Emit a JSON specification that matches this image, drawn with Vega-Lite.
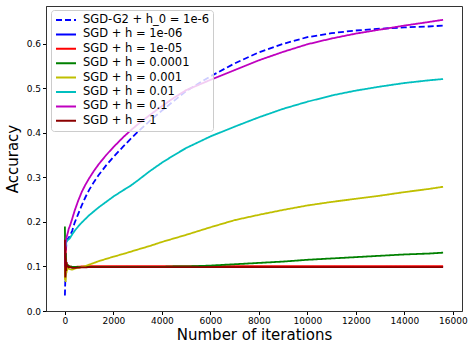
{
  "$schema": "https://vega.github.io/schema/vega-lite/v6.json",
  "autosize": {"type": "none"},
  "padding": {"left": 46, "top": 6, "right": 12, "bottom": 40},
  "width": 416,
  "height": 305,
  "background": "white",
  "config": {
    "view": {"stroke": "#333333", "strokeWidth": 1},
    "font": "DejaVu Sans",
    "axis": {
      "grid": false,
      "labelFont": "DejaVu Sans",
      "labelFontSize": 9,
      "labelColor": "#000000",
      "tickColor": "#000000",
      "tickSize": 3.5,
      "domainColor": "#333333",
      "titleFont": "DejaVu Sans",
      "titleFontSize": 15,
      "titleFontWeight": "normal",
      "titleColor": "#000000"
    }
  },
  "data": {
    "values": [
      {"x": 0, "g2": 0.035, "h6": 0.10, "h5": 0.12, "h4": 0.19, "h3": 0.07, "h2": 0.13, "h1": 0.10, "h0": 0.16},
      {"x": 16, "g2": 0.07, "h6": 0.14, "h5": 0.07, "h4": 0.09, "h3": 0.12, "h2": 0.15, "h1": 0.14, "h0": 0.075},
      {"x": 32, "g2": 0.11, "h6": 0.08, "h5": 0.15, "h4": 0.13, "h3": 0.065, "h2": 0.145, "h1": 0.155, "h0": 0.12},
      {"x": 48, "g2": 0.14, "h6": 0.12, "h5": 0.085, "h4": 0.095, "h3": 0.11, "h2": 0.15, "h1": 0.16, "h0": 0.09},
      {"x": 64, "g2": 0.155, "h6": 0.095, "h5": 0.11, "h4": 0.105, "h3": 0.085, "h2": 0.155, "h1": 0.165, "h0": 0.11},
      {"x": 80, "g2": 0.158, "h6": 0.105, "h5": 0.095, "h4": 0.10, "h3": 0.10, "h2": 0.157, "h1": 0.168, "h0": 0.098},
      {"x": 100, "g2": 0.16, "h6": 0.1, "h5": 0.103, "h4": 0.104, "h3": 0.093, "h2": 0.158, "h1": 0.172, "h0": 0.102},
      {"x": 130, "g2": 0.163, "h6": 0.099, "h5": 0.1, "h4": 0.103, "h3": 0.097, "h2": 0.16, "h1": 0.178, "h0": 0.1},
      {"x": 160, "g2": 0.165, "h6": 0.1, "h5": 0.1, "h4": 0.101, "h3": 0.095, "h2": 0.161, "h1": 0.185, "h0": 0.098},
      {"x": 200, "g2": 0.168, "h6": 0.099, "h5": 0.1, "h4": 0.1, "h3": 0.094, "h2": 0.163, "h1": 0.19, "h0": 0.099},
      {"x": 300, "g2": 0.18, "h6": 0.098, "h5": 0.099, "h4": 0.099, "h3": 0.093, "h2": 0.172, "h1": 0.207, "h0": 0.097},
      {"x": 400, "g2": 0.198, "h6": 0.098, "h5": 0.099, "h4": 0.099, "h3": 0.095, "h2": 0.18, "h1": 0.225, "h0": 0.097},
      {"x": 550, "g2": 0.218, "h6": 0.099, "h5": 0.0995, "h4": 0.099, "h3": 0.097, "h2": 0.19, "h1": 0.248, "h0": 0.0975},
      {"x": 700, "g2": 0.238, "h6": 0.099, "h5": 0.1, "h4": 0.099, "h3": 0.099, "h2": 0.199, "h1": 0.268, "h0": 0.098},
      {"x": 850, "g2": 0.256, "h6": 0.099, "h5": 0.1, "h4": 0.099, "h3": 0.101, "h2": 0.207, "h1": 0.284, "h0": 0.098},
      {"x": 1000, "g2": 0.272, "h6": 0.099, "h5": 0.1005, "h4": 0.099, "h3": 0.104, "h2": 0.215, "h1": 0.298, "h0": 0.0985},
      {"x": 1200, "g2": 0.29, "h6": 0.099, "h5": 0.1005, "h4": 0.099, "h3": 0.108, "h2": 0.224, "h1": 0.315, "h0": 0.0985},
      {"x": 1400, "g2": 0.306, "h6": 0.099, "h5": 0.1005, "h4": 0.099, "h3": 0.112, "h2": 0.233, "h1": 0.33, "h0": 0.0985},
      {"x": 1700, "g2": 0.327, "h6": 0.099, "h5": 0.1005, "h4": 0.099, "h3": 0.117, "h2": 0.245, "h1": 0.35, "h0": 0.0985},
      {"x": 2000, "g2": 0.346, "h6": 0.099, "h5": 0.1005, "h4": 0.099, "h3": 0.122, "h2": 0.257, "h1": 0.368, "h0": 0.0985},
      {"x": 2400, "g2": 0.369, "h6": 0.099, "h5": 0.1005, "h4": 0.099, "h3": 0.128, "h2": 0.271, "h1": 0.39, "h0": 0.0985},
      {"x": 2700, "g2": 0.386, "h6": 0.099, "h5": 0.1005, "h4": 0.099, "h3": 0.133, "h2": 0.281, "h1": 0.405, "h0": 0.0985},
      {"x": 3000, "g2": 0.402, "h6": 0.099, "h5": 0.1005, "h4": 0.099, "h3": 0.138, "h2": 0.293, "h1": 0.419, "h0": 0.0985},
      {"x": 3500, "g2": 0.427, "h6": 0.099, "h5": 0.1005, "h4": 0.099, "h3": 0.146, "h2": 0.314, "h1": 0.44, "h0": 0.0985},
      {"x": 4000, "g2": 0.45, "h6": 0.099, "h5": 0.1005, "h4": 0.099, "h3": 0.155, "h2": 0.333, "h1": 0.46, "h0": 0.0985},
      {"x": 4500, "g2": 0.472, "h6": 0.099, "h5": 0.1005, "h4": 0.1, "h3": 0.163, "h2": 0.35, "h1": 0.479, "h0": 0.0985},
      {"x": 5000, "g2": 0.494, "h6": 0.099, "h5": 0.1005, "h4": 0.1, "h3": 0.171, "h2": 0.366, "h1": 0.496, "h0": 0.0985},
      {"x": 6000, "g2": 0.527, "h6": 0.099, "h5": 0.1005, "h4": 0.102, "h3": 0.188, "h2": 0.392, "h1": 0.519, "h0": 0.0985},
      {"x": 7000, "g2": 0.556, "h6": 0.099, "h5": 0.1005, "h4": 0.105, "h3": 0.204, "h2": 0.414, "h1": 0.541, "h0": 0.0985},
      {"x": 8000, "g2": 0.581, "h6": 0.099, "h5": 0.1005, "h4": 0.108, "h3": 0.216, "h2": 0.435, "h1": 0.563, "h0": 0.0985},
      {"x": 9000, "g2": 0.6, "h6": 0.099, "h5": 0.1005, "h4": 0.111, "h3": 0.227, "h2": 0.454, "h1": 0.582, "h0": 0.0985},
      {"x": 10000, "g2": 0.615, "h6": 0.099, "h5": 0.1005, "h4": 0.115, "h3": 0.237, "h2": 0.47, "h1": 0.599, "h0": 0.0985},
      {"x": 11000, "g2": 0.624, "h6": 0.099, "h5": 0.1005, "h4": 0.118, "h3": 0.245, "h2": 0.484, "h1": 0.612, "h0": 0.0985},
      {"x": 12000, "g2": 0.63, "h6": 0.099, "h5": 0.1005, "h4": 0.121, "h3": 0.252, "h2": 0.495, "h1": 0.623, "h0": 0.0985},
      {"x": 13000, "g2": 0.634, "h6": 0.099, "h5": 0.1005, "h4": 0.124, "h3": 0.259, "h2": 0.504, "h1": 0.632, "h0": 0.0985},
      {"x": 14000, "g2": 0.637, "h6": 0.099, "h5": 0.1005, "h4": 0.127, "h3": 0.267, "h2": 0.512, "h1": 0.641, "h0": 0.0985},
      {"x": 15000, "g2": 0.639, "h6": 0.099, "h5": 0.1005, "h4": 0.129, "h3": 0.274, "h2": 0.518, "h1": 0.649, "h0": 0.0985},
      {"x": 15600, "g2": 0.641, "h6": 0.099, "h5": 0.1005, "h4": 0.131, "h3": 0.279, "h2": 0.521, "h1": 0.654, "h0": 0.0985}
    ]
  },
  "transform": [
    {"fold": ["g2", "h6", "h5", "h4", "h3", "h2", "h1", "h0"], "as": ["s", "y"]}
  ],
  "mark": {"type": "line", "strokeWidth": 1.8, "clip": true},
  "encoding": {
    "x": {
      "field": "x", "type": "quantitative",
      "scale": {"domain": [-780, 16380], "nice": false, "zero": false},
      "axis": {"values": [0, 2000, 4000, 6000, 8000, 10000, 12000, 14000, 16000], "format": "d", "title": "Number of iterations", "titlePadding": 2, "labelPadding": 2}
    },
    "y": {
      "field": "y", "type": "quantitative",
      "scale": {"domain": [0, 0.685], "nice": false},
      "axis": {"values": [0, 0.1, 0.2, 0.3, 0.4, 0.5, 0.6], "format": ".1f", "title": "Accuracy", "titlePadding": 6, "labelPadding": 2}
    },
    "color": {
      "field": "s", "type": "nominal",
      "scale": {
        "domain": ["g2", "h6", "h5", "h4", "h3", "h2", "h1", "h0"],
        "range": ["#0000ff", "#0000ff", "#ff0000", "#008000", "#bfbf00", "#00bfbf", "#bf00bf", "#8b0000"]
      },
      "legend": {
        "title": null,
        "orient": "none",
        "legendX": 5,
        "legendY": 4,
        "fillColor": "rgba(255,255,255,0.8)",
        "strokeColor": "#cccccc",
        "cornerRadius": 3,
        "padding": 4,
        "labelFont": "DejaVu Sans",
        "labelFontSize": 11.5,
        "labelColor": "#000000",
        "labelOffset": 16,
        "symbolType": "M-1,0H3",
        "symbolSize": 100,
        "symbolStrokeWidth": 2,
        "rowPadding": 2.4,
        "labelExpr": "datum.value == 'g2' ? 'SGD-G2 + h_0 = 1e-6' : datum.value == 'h6' ? 'SGD + h = 1e-06' : datum.value == 'h5' ? 'SGD + h = 1e-05' : datum.value == 'h4' ? 'SGD + h = 0.0001' : datum.value == 'h3' ? 'SGD + h = 0.001' : datum.value == 'h2' ? 'SGD + h = 0.01' : datum.value == 'h1' ? 'SGD + h = 0.1' : 'SGD + h = 1'"
      }
    },
    "strokeDash": {
      "field": "s", "type": "nominal",
      "scale": {
        "domain": ["g2", "h6", "h5", "h4", "h3", "h2", "h1", "h0"],
        "range": [[6, 3], [1, 0], [1, 0], [1, 0], [1, 0], [1, 0], [1, 0], [1, 0]]
      },
      "legend": null
    }
  }
}
